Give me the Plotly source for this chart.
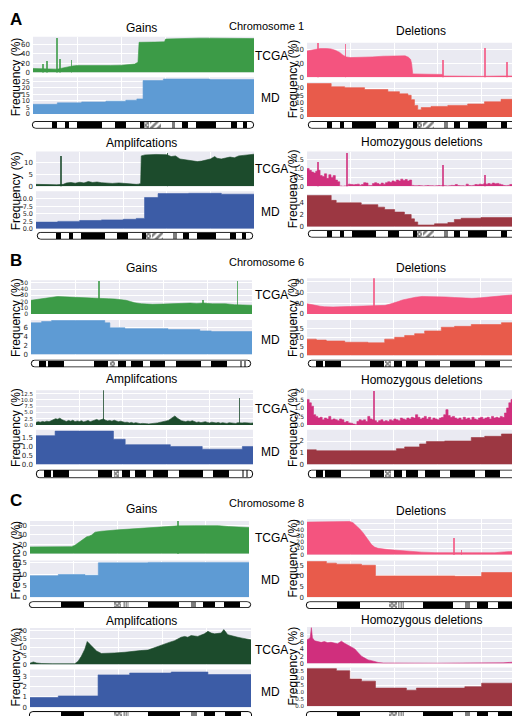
import plotly.graph_objects as go

W, H = 520, 716
BG = '#eaeaf2'
FONT = 'Liberation Sans'
TICK_FONT = 'DejaVu Sans'

COLORS = {
    'gain_tcga': '#3c9b47',
    'gain_md': '#5e9bd4',
    'amp_tcga': '#1c4b2c',
    'amp_md': '#3c5ca6',
    'del_tcga': '#f4547f',
    'del_md': '#e85b4b',
    'hd_tcga': '#d02f7d',
    'hd_md': '#9c3742',
}

# positions are in % of chromosome length
GRID1 = list(range(0, 101))

# ---------------- chromosome 1 ----------------
C1_GAIN_TCGA_X = [0, 5, 8, 11, 13, 15, 18, 20, 25, 30, 35, 40, 44, 46, 47.5, 48, 55, 59.5, 60,
                  65, 70, 75, 80, 85, 90, 95, 100]
C1_GAIN_TCGA_Y = [8.5, 8, 7.5, 7, 9, 11.5, 14, 15, 14.5, 14.5, 15, 15.5, 16.5, 18, 22, 65, 65.5, 66, 72,
                  73, 73.5, 74, 74, 73.5, 73.5, 73, 73]
C1_GAIN_SPIKE_X = [4.5, 6.3, 11.0, 12.1, 17.4]
C1_GAIN_SPIKE_Y = [19, 26, 74, 30, 27]
C1_GAIN_MD_EDGES = [0, 11, 22, 33, 42, 47, 49.8, 59, 80, 100]
C1_GAIN_MD_VALS = [7.4, 8.5, 9.2, 9.8, 10.5, 11.5, 25.5, 26.7, 26.3]

C1_AMP_TCGA_X = [0, 3, 6, 9.5, 12.5, 14, 16, 18, 20, 22, 24, 26, 28, 30, 32, 35, 38, 41, 44, 46,
                 47, 48, 48.3, 50, 55, 60, 62, 64, 66, 68, 70, 72, 74, 76, 78, 80, 82, 83, 85, 87,
                 89, 91, 93, 95, 97, 100]
C1_AMP_TCGA_Y = [0.8, 0.9, 0.7, 0.6, 0.8, 1.4, 1.6, 1.3, 1.7, 1.4, 2.0, 1.6, 1.8, 1.5, 1.3, 1.2, 1.4, 1.1, 1.0, 0.8,
                 0.9, 1.2, 12.8, 13.2, 13.4, 13.3, 12.5, 12.8, 11.5, 11.2, 11.0, 10.8, 10.4, 10.6, 11.0, 11.5, 12.5, 11.8, 11.5, 12.0,
                 12.3, 12.0, 12.8, 13.0, 13.2, 13.5]
C1_AMP_SPIKE_X = [11.3, 60.3]
C1_AMP_SPIKE_Y = [12.8, 14.3]
C1_AMP_MD_EDGES = [0, 10, 20, 30, 40, 46, 49.8, 56, 70, 85, 100]
C1_AMP_MD_VALS = [2.3, 2.5, 2.8, 3.0, 3.2, 3.5, 10.5, 11.8, 11.9, 11.6]

C1_DEL_TCGA_X = [0, 3, 6, 9, 11, 13, 15, 16.5, 18, 20, 25, 28, 30, 35, 40, 43, 45, 46.5, 47.5, 48,
                 48.5, 55, 62, 62.5, 70, 80, 90, 100]
C1_DEL_TCGA_Y = [38, 40, 41.5, 41.5, 41, 39, 36, 32, 29.5, 28.5, 28.5, 29, 29.5, 30.5, 31, 31.5, 31, 29, 26, 20,
                 5, 4.5, 4.2, 2, 1.5, 1.5, 2, 2]
C1_DEL_SPIKE_X = [5.0, 17.7, 62.3, 81.8, 91.8]
C1_DEL_SPIKE_Y = [50, 48, 26, 43, 23]
C1_DEL_MD_EDGES = [0, 11.1, 17.3, 26.4, 37.1, 42.4, 46.3, 47.8, 49.3, 50.8, 52.4, 56.9, 64.6, 73.7, 81.4, 89.0, 100]
C1_DEL_MD_VALS = [23.1, 20.9, 20.3, 19.0, 17.5, 16.0, 15.0, 12.0, 8.0, 5.0, 6.5, 7.3, 8.0, 9.0, 10.5, 12.2]

C1_HD_TCGA_Y = [1.0, 0.9, 0.8, 0.75, 0.85, 0.9, 0.6, 0.55, 0.7, 0.45,
                0.65, 0.5, 0.6, 0.35, 0.25, 0.02, 0.0, 0.02, 0.03, 0.12,
                0.1, 0.08, 0.1, 0.12, 0.06, 0.1, 0.2, 0.18, 0.05, 0.04,
                0.15, 0.2, 0.15, 0.1, 0.18, 0.12, 0.2, 0.25, 0.22, 0.3,
                0.25, 0.35, 0.3, 0.4, 0.32, 0.38, 0.3, 0.35, 0.05, 0.03,
                0.03, 0.04, 0.03, 0.02, 0.03, 0.04, 0.03, 0.03, 0.02, 0.03,
                0.04, 0.03, 0.05, 0.03, 0.02, 0.03, 0.05, 0.04, 0.1, 0.04,
                0.03, 0.03, 0.02, 0.12, 0.04, 0.03, 0.05, 0.1, 0.08, 0.12,
                0.1, 0.14, 0.12, 0.15, 0.12, 0.18, 0.14, 0.16, 0.12, 0.08,
                0.04, 0.03, 0.05, 0.1, 0.12, 0.15, 0.2, 0.14, 0.18, 0.15,
                0.12]
C1_HD_SPIKE_X = [5.0, 18.2, 62.3, 81.8]
C1_HD_SPIKE_Y = [1.37, 1.92, 1.24, 0.66]
C1_HD_MD_EDGES = [0, 11.1, 13.4, 24.9, 32.5, 35.6, 40.2, 44.7, 47.8, 49.3, 50.8, 58.5, 64.6, 67.6, 70.7, 79.8, 98.2, 100]
C1_HD_MD_VALS = [5.1, 4.3, 3.9, 3.6, 3.2, 2.8, 2.4, 2.0, 1.3, 0.8, 0.3, 0.5, 0.7, 1.2, 1.4, 1.5, 1.3]

C1_BLACK = [(8.9, 11.0), (14.9, 16.7), (20.4, 31.3), (37.2, 42.3), (48.7, 50.6), (67.6, 70.5),
            (74.0, 82.9), (89.6, 92.3), (95.2, 97.0)]
C1_GREY = [(63.1, 63.7), (64.0, 64.6)]
C1_CEN = [(50.6, 52.7)]
C1_HATCH = [(53.1, 58.3)]

# ---------------- chromosome 6 ----------------
C6_GAIN_TCGA_X = [0, 5, 8, 10, 12, 15, 20, 25, 30, 35, 38, 40, 43, 45, 47, 50, 55, 60, 65, 68,
                  72, 75, 78, 82, 85, 88, 92, 95, 100]
C6_GAIN_TCGA_Y = [22, 24, 26, 27, 28, 27.5, 27, 26, 25, 24.5, 24, 23.5, 22, 20, 18, 16.5, 15.5, 16, 17, 17.5,
                  17.5, 17, 17.5, 16.5, 17, 16.5, 15, 14.5, 14]
C6_GAIN_SPIKE_X = [30.7, 77.9, 93.4]
C6_GAIN_SPIKE_Y = [53, 22, 53]
C6_GAIN_MD_EDGES = [0, 4.8, 9.3, 33.4, 35.7, 42.5, 62.0, 76.4, 81.6, 100]
C6_GAIN_MD_VALS = [7.1, 7.4, 7.6, 7.1, 6.0, 5.8, 5.6, 5.3, 5.15]

C6_AMP_TCGA_Y = [1.0, 1.3, 1.1, 1.4, 1.2, 1.5, 1.3, 1.8, 2.2, 2.5,
                 2.3, 2.7, 2.1, 1.6, 1.4, 1.8, 1.5, 1.9, 1.3, 1.6,
                 1.4, 1.7, 1.2, 1.5, 1.8, 1.3, 1.6, 1.9, 2.2, 1.8,
                 2.1, 2.4, 1.9, 1.6, 1.8, 1.5, 1.9, 1.6, 1.3, 1.5,
                 1.2, 1.0, 1.1, 0.8, 1.0, 0.7, 0.9, 0.6, 0.5, 0.6,
                 0.4, 0.5, 0.4, 0.6, 0.5, 0.7, 0.8, 1.0, 1.2, 1.1,
                 1.4, 1.8, 2.4, 3.0, 3.6, 2.8, 2.1, 1.7, 1.5, 1.3,
                 1.6, 1.4, 1.7, 1.2, 1.0, 1.2, 0.9, 1.1, 1.3, 1.0,
                 0.8, 1.1, 0.9, 0.8, 1.0, 0.7, 0.9, 0.8, 0.6, 0.9,
                 0.7, 0.8, 0.6, 0.9, 0.7, 0.8, 0.9, 0.7, 0.8, 0.7,
                 0.8]
C6_AMP_SPIKE_X = [31.1, 93.8]
C6_AMP_SPIKE_Y = [13.8, 10.5]
C6_AMP_MD_EDGES = [0, 8.8, 35.7, 41.1, 61.9, 76.6, 95.1, 100]
C6_AMP_MD_VALS = [1.6, 1.85, 1.4, 1.1, 1.0, 0.85, 1.0]

C6_DEL_TCGA_X = [0, 2, 4, 6, 8, 12, 18, 22, 26, 30, 34, 36, 38, 40, 42, 44, 46, 48, 50, 53,
                 58, 61, 64, 68, 72, 76, 80, 83, 86, 89, 92, 95, 98, 100]
C6_DEL_TCGA_Y = [19, 18, 16, 14.5, 13.5, 13, 13.5, 14, 14.5, 15, 15, 16, 18, 20, 23, 26, 28, 30, 31, 32.5,
                 32.5, 32, 31.5, 30.5, 29.5, 29, 30, 31, 32, 33, 34, 35.5, 35, 34.5]
C6_DEL_SPIKE_X = [30.9]
C6_DEL_SPIKE_Y = [66]
C6_DEL_MD_EDGES = [0, 4.3, 8.9, 17.4, 28.1, 35.8, 40.4, 45.0, 49.6, 54.2, 61.9, 68.0, 75.7, 89.6, 95.7, 100]
C6_DEL_MD_VALS = [9.0, 8.5, 8.0, 7.3, 7.0, 9.0, 10.0, 11.0, 12.0, 13.5, 15.5, 16.0, 17.0, 18.0, 19.0]

C6_HD_TCGA_Y = [1.5, 1.3, 1.1, 0.6, 0.5, 0.4, 0.45, 0.3, 0.4, 0.35,
                0.5, 0.3, 0.35, 0.3, 0.25, 0.35, 0.3, 0.15, 0.2, 0.12,
                0.1, 0.05, 0.03, 0.2, 0.3, 0.25, 0.3, 0.2, 0.5, 0.35,
                0.3, 0.25, 0.15, 0.25, 0.3, 0.2, 0.25, 0.2, 0.3, 0.25,
                0.35, 0.3, 0.25, 0.4, 0.35, 0.3, 0.4, 0.35, 0.45, 0.4,
                0.6, 0.45, 0.35, 0.4, 0.5, 0.35, 0.45, 0.3, 0.4, 0.35,
                0.3, 0.4, 0.45, 0.6, 0.9, 0.55, 0.45, 0.5, 0.4, 0.35,
                0.4, 0.3, 0.45, 0.35, 0.4, 0.3, 0.45, 0.35, 0.3, 0.4,
                0.45, 0.35, 0.4, 0.45, 0.35, 0.5, 0.4, 0.45, 0.4, 0.5,
                0.45, 0.7, 1.0, 1.3, 1.5, 1.2, 2.0, 1.3, 1.75, 1.4,
                1.1]
C6_HD_SPIKE_X = [30.9]
C6_HD_SPIKE_Y = [2.0]
C6_HD_MD_EDGES = [0, 4.3, 41.2, 45.0, 51.9, 55.0, 63.4, 75.7, 81.9, 89.6, 95.7, 100]
C6_HD_MD_VALS = [1.25, 1.17, 1.35, 1.5, 1.75, 1.95, 2.0, 2.3, 2.4, 2.6, 2.83]

C6_BLACK = [(3.5, 6.8), (7.7, 15.0), (28.6, 35.0), (39.6, 43.3), (45.5, 50.8), (54.0, 61.0),
            (66.0, 77.2), (81.8, 89.0)]
C6_GREY = [(95.0, 96.0), (96.8, 97.8)]
C6_CEN = [(35.7, 38.3)]
C6_HATCH = []

# ---------------- chromosome 8 ----------------
C8_GAIN_TCGA_X = [0, 10, 17, 19, 20.5, 22.8, 24.5, 25.9, 27, 28.2, 29.7, 32.7, 40.3, 51, 60.1, 67.7,
                  75.3, 86, 90.6, 96.7, 100]
C8_GAIN_TCGA_Y = [14.5, 14.5, 14, 15, 18, 25, 32, 36, 37.5, 40, 46, 48, 51, 54, 57, 59.5,
                  60, 60, 58, 56.5, 56]
C8_GAIN_SPIKE_X = [67.7]
C8_GAIN_SPIKE_Y = [70]
C8_GAIN_MD_EDGES = [0, 12.9, 25.1, 31.2, 54, 100]
C8_GAIN_MD_VALS = [9.4, 9.9, 9.6, 15.0, 15.2]

C8_AMP_TCGA_X = [0, 1.5, 3, 5.3, 10, 15, 20.3, 21.8, 23.3, 24.8, 25.9, 27, 27.8, 30.1, 32.3, 35, 38.3,
                 42.9, 47.4, 50, 53.4, 56.4, 58, 60.9, 63, 65.4, 68.4, 70, 71.4, 72.9, 75.9, 78.9, 80.5,
                 82, 83.5, 86.5, 87.7, 89.5, 92, 94, 96, 98.5, 100]
C8_AMP_TCGA_Y = [0.8, 1.5, 0.9, 0.6, 0.5, 0.6, 0.5, 2, 5, 9, 13.5, 12, 11, 8, 6.5, 6.5, 6.8,
                 7.2, 8, 8.2, 8.5, 10, 10.5, 12, 13, 14, 16, 16.5, 16, 17, 16.5, 18, 19.5,
                 18.5, 18, 18.5, 20.5, 17.5, 16.5, 16, 15.5, 15, 14.5]
C8_AMP_MD_EDGES = [0, 12.8, 30.8, 45.1, 63.9, 80.5, 100]
C8_AMP_MD_VALS = [0.95, 1.1, 3.17, 3.35, 3.45, 3.2]

C8_DEL_TCGA_X = [0, 12.7, 14.2, 19.6, 21.1, 22.7, 24.2, 25.7, 27, 28, 29.6, 31, 32.6, 37.2, 43.3,
                 52.5, 58.7, 74, 80.1, 86.2, 89, 92.3, 96, 100]
C8_DEL_TCGA_Y = [52, 52.5, 53.5, 53, 51, 46, 41, 35, 29, 25, 16, 12, 10, 8, 6,
                 4, 3.2, 3, 2.5, 3, 4, 5, 5.5, 5.5]
C8_DEL_SPIKE_X = [67.4, 70.9]
C8_DEL_SPIKE_Y = [26, 8]
C8_DEL_MD_EDGES = [0, 8.9, 13.5, 25, 31.4, 67.8, 80.1, 100]
C8_DEL_MD_VALS = [16.8, 16.0, 15.5, 15.0, 10.0, 9.8, 11.6]

C8_HD_TCGA_X = [0, 1, 1.5, 2, 2.5, 3.5, 5, 6.5, 8, 9.5, 11, 12.7, 14, 15, 15.8, 17, 18.8, 20, 21.9,
                23.4, 25, 26.5, 28, 29.6, 31, 32.6, 35, 40, 50, 60, 70, 80, 90, 95, 97, 100]
C8_HD_TCGA_Y = [6.5, 6.8, 7.2, 9.8, 7, 6.2, 6, 5.8, 6, 5.7, 5.8, 5.5, 5.4, 5.8, 6.1, 5.6, 5, 4.5, 4,
                3, 2, 1.5, 1.0, 0.8, 0.5, 0.3, 0.15, 0.1, 0.1, 0.1, 0.15, 0.1, 0.2, 0.4, 0.3, 0.2]
C8_HD_MD_EDGES = [0, 13.5, 19.6, 25, 31.4, 45.6, 50.2, 72.4, 80.1, 100]
C8_HD_MD_VALS = [2.7, 2.55, 1.95, 1.8, 1.3, 1.15, 1.3, 1.4, 1.65]

C8_BLACK = [(14.2, 24.5), (53.5, 67.7), (78.5, 83.7), (88.1, 95.2)]
C8_GREY = [(72.9, 75.5)]
C8_CEN = [(38.2, 41.6)]
C8_HATCH = []
C8_STRIPE = [(42.2, 44.9)]

fig = go.Figure()
axis_count = 0


def add_axes(box, xrange, yrange, data=True, yticks=None, fmt='', tsize=7):
    global axis_count
    axis_count += 1
    sfx = '' if axis_count == 1 else str(axis_count)
    left, right, top, bottom = box
    xa = dict(domain=[left / W, right / W], range=xrange, anchor='y' + sfx,
              showticklabels=False, zeroline=False, showline=False, ticks='', fixedrange=True)
    ya = dict(domain=[1 - bottom / H, 1 - top / H], range=yrange, anchor='x' + sfx,
              zeroline=False, showline=False, ticks='', fixedrange=True)
    if data:
        xa.update(showgrid=True, gridcolor='white', gridwidth=1, dtick=20, tick0=0)
        ya.update(showgrid=True, gridcolor='white', gridwidth=1, tickvals=yticks,
                  tickformat=fmt, ticklabelstandoff=2,
                  tickfont=dict(family=TICK_FONT, size=tsize, color='#262626'))
        fig.add_shape(type='rect', xref='x%s domain' % sfx, yref='y%s domain' % sfx,
                      x0=0, x1=1, y0=0, y1=1, fillcolor=BG, line_width=0, layer='below')
    else:
        xa.update(showgrid=False, visible=False)
        ya.update(showgrid=False, visible=False)
    fig.update_layout({'xaxis' + sfx: xa, 'yaxis' + sfx: ya})
    return 'x' + sfx, 'y' + sfx


def area(box, x, y, color, yrange, yticks, fmt='', step=False, spikes=None, tsize=7):
    xa, ya = add_axes(box, [0, 100], yrange, yticks=yticks, fmt=fmt, tsize=tsize)
    fig.add_trace(go.Scatter(x=x, y=y, mode='lines', fill='tozeroy', fillcolor=color,
                             line=dict(color=color, width=0.6, shape='hv' if step else 'linear'),
                             xaxis=xa, yaxis=ya, hoverinfo='skip'))
    if spikes:
        fig.add_trace(go.Bar(x=spikes[0], y=spikes[1], width=0.35,
                             marker=dict(color=color, line_width=0, opacity=0.8),
                             xaxis=xa, yaxis=ya, hoverinfo='skip'))


def md(box, edges, vals, color, yrange, yticks, fmt='', tsize=7):
    area(box, edges, vals + [vals[-1]], color, yrange, yticks, fmt, step=True, tsize=tsize)


def ideogram(box, black, grey, cen, hatch, stripe=()):
    xa, ya = add_axes(box, [-0.6, 100.6], [-0.5, 0.5], data=False)
    styles = [
        (black, dict(color='black')),
        (grey, dict(color='#7d7d7d')),
        (cen, dict(color='white', pattern=dict(shape='x', fgcolor='black', bgcolor='white',
                                               size=3, solidity=0.75))),
        (hatch, dict(color='white', pattern=dict(shape='/', fgcolor='black', bgcolor='white',
                                                 size=5, solidity=0.5))),
        (stripe, dict(color='white', pattern=dict(shape='|', fgcolor='black', bgcolor='white',
                                                  size=2.5, solidity=0.6))),
    ]
    for segs, mk in styles:
        if not segs:
            continue
        fig.add_trace(go.Bar(orientation='h', y=[0] * len(segs), x=[e - s for s, e in segs],
                             base=[s for s, e in segs], width=0.84,
                             marker=dict(line_width=0, **mk),
                             xaxis=xa, yaxis=ya, hoverinfo='skip'))
    r, h = 1.6, 0.44
    path = (f'M {r},{-h} L {100 - r},{-h} Q 100,{-h} 100,0 Q 100,{h} {100 - r},{h} '
            f'L {r},{h} Q 0,{h} 0,0 Q 0,{-h} {r},{-h} Z')
    fig.add_shape(type='path', path=path, xref=xa, yref=ya, line=dict(color='black', width=1))


def text(px, py, s, size=11.5, angle=0, family=FONT):
    fig.add_annotation(x=px / W, y=1 - py / H, xref='paper', yref='paper', text=s,
                       showarrow=False, textangle=angle, xanchor='center', yanchor='middle',
                       font=dict(family=family, size=size, color='black'))


# ---------------- chromosome 1 (A) ----------------
area((25, 246, 26, 62), C1_GAIN_TCGA_X, C1_GAIN_TCGA_Y, COLORS['gain_tcga'], [0, 77], [0, 20, 40, 60],
     spikes=(C1_GAIN_SPIKE_X, C1_GAIN_SPIKE_Y))
md((25, 246, 67, 104), C1_GAIN_MD_EDGES, C1_GAIN_MD_VALS, COLORS['gain_md'], [0, 28],
   [0, 5, 10, 15, 20, 25], tsize=6.5)
ideogram((23, 247, 111, 119), C1_BLACK, C1_GREY, C1_CEN, C1_HATCH)
area((28, 246, 142, 177), C1_AMP_TCGA_X, C1_AMP_TCGA_Y, COLORS['amp_tcga'], [0, 14.6], [0, 5, 10],
     spikes=(C1_AMP_SPIKE_X, C1_AMP_SPIKE_Y))
md((28, 246, 182, 220), C1_AMP_MD_EDGES, C1_AMP_MD_VALS, COLORS['amp_md'], [0, 12.6],
   [0, 2.5, 5, 7.5, 10], '.1f', tsize=6.5)
ideogram((28, 246, 223, 231), C1_BLACK, C1_GREY, C1_CEN, C1_HATCH)

area((299, 517, 32, 67), C1_DEL_TCGA_X, C1_DEL_TCGA_Y, COLORS['del_tcga'], [0, 50], [0, 20, 40],
     spikes=(C1_DEL_SPIKE_X, C1_DEL_SPIKE_Y))
md((299, 517, 72, 107), C1_DEL_MD_EDGES, C1_DEL_MD_VALS, COLORS['del_md'], [0, 24],
   [0, 5, 10, 15, 20], tsize=6.5)
ideogram((299, 517, 111, 119), C1_BLACK, C1_GREY, C1_CEN, C1_HATCH)
area((299, 517, 142, 177), GRID1, C1_HD_TCGA_Y, COLORS['hd_tcga'], [0, 1.95], [0, 0.5, 1, 1.5], '.1f',
     step=True, spikes=(C1_HD_SPIKE_X, C1_HD_SPIKE_Y), tsize=6.5)
md((299, 517, 185, 218), C1_HD_MD_EDGES, C1_HD_MD_VALS, COLORS['hd_md'], [0, 5.3], [0, 2, 4])
ideogram((299, 517, 221, 229), C1_BLACK, C1_GREY, C1_CEN, C1_HATCH)

# ---------------- chromosome 6 (B) ----------------
area((23, 244, 272, 306), C6_GAIN_TCGA_X, C6_GAIN_TCGA_Y, COLORS['gain_tcga'], [0, 54],
     [0, 10, 20, 30, 40, 50], spikes=(C6_GAIN_SPIKE_X, C6_GAIN_SPIKE_Y), tsize=6)
md((23, 244, 312, 347), C6_GAIN_MD_EDGES, C6_GAIN_MD_VALS, COLORS['gain_md'], [0, 7.75], [0, 2, 4, 6])
ideogram((22, 244, 352, 360), C6_BLACK, C6_GREY, C6_CEN, C6_HATCH)
area((28, 245, 383, 418), GRID1, C6_AMP_TCGA_Y, COLORS['amp_tcga'], [0, 13.9],
     [0, 2.5, 5, 7.5, 10, 12.5], '.1f', spikes=(C6_AMP_SPIKE_X, C6_AMP_SPIKE_Y), tsize=5.5)
md((28, 245, 423, 458), C6_AMP_MD_EDGES, C6_AMP_MD_VALS, COLORS['amp_md'], [0, 1.92],
   [0, 0.5, 1, 1.5], '.1f')
ideogram((27, 246, 463, 472), C6_BLACK, C6_GREY, C6_CEN, C6_HATCH)

area((299, 516, 270, 306), C6_DEL_TCGA_X, C6_DEL_TCGA_Y, COLORS['del_tcga'], [0, 66], [0, 20, 40, 60],
     spikes=(C6_DEL_SPIKE_X, C6_DEL_SPIKE_Y))
md((299, 516, 312, 348), C6_DEL_MD_EDGES, C6_DEL_MD_VALS, COLORS['del_md'], [0, 19.5], [0, 5, 10, 15])
ideogram((299, 517, 352, 360), C6_BLACK, C6_GREY, C6_CEN, C6_HATCH)
area((299, 516, 383, 418), GRID1, C6_HD_TCGA_Y, COLORS['hd_tcga'], [0, 2.04], [0, 0.5, 1, 1.5, 2],
     '.1f', step=True, spikes=(C6_HD_SPIKE_X, C6_HD_SPIKE_Y), tsize=6)
md((299, 516, 423, 458), C6_HD_MD_EDGES, C6_HD_MD_VALS, COLORS['hd_md'], [0, 2.95], [0, 1, 2])
ideogram((299, 517, 463, 472), C6_BLACK, C6_GREY, C6_CEN, C6_HATCH)

# ---------------- chromosome 8 (C) ----------------
area((22, 241, 515, 548), C8_GAIN_TCGA_X, C8_GAIN_TCGA_Y, COLORS['gain_tcga'], [0, 70], [0, 20, 40, 60],
     spikes=(C8_GAIN_SPIKE_X, C8_GAIN_SPIKE_Y))
md((22, 241, 555, 592), C8_GAIN_MD_EDGES, C8_GAIN_MD_VALS, COLORS['gain_md'], [0, 16], [0, 5, 10, 15])
ideogram((20, 244, 596, 603), C8_BLACK, C8_GREY, C8_CEN, C8_HATCH, C8_STRIPE)
area((22, 243, 623, 660), C8_AMP_TCGA_X, C8_AMP_TCGA_Y, COLORS['amp_tcga'], [0, 21.5],
     [0, 5, 10, 15, 20], tsize=6.5)
md((22, 243, 665, 703), C8_AMP_MD_EDGES, C8_AMP_MD_VALS, COLORS['amp_md'], [0, 3.7], [0, 1, 2, 3])
ideogram((20, 245, 707, 715), C8_BLACK, C8_GREY, C8_CEN, C8_HATCH, C8_STRIPE)

area((299, 517, 513, 549), C8_DEL_TCGA_X, C8_DEL_TCGA_Y, COLORS['del_tcga'], [0, 57],
     [0, 10, 20, 30, 40, 50], spikes=(C8_DEL_SPIKE_X, C8_DEL_SPIKE_Y), tsize=6)
md((299, 517, 555, 592), C8_DEL_MD_EDGES, C8_DEL_MD_VALS, COLORS['del_md'], [0, 17.2], [0, 5, 10, 15])
ideogram((297, 517, 596, 604), C8_BLACK, C8_GREY, C8_CEN, C8_HATCH, C8_STRIPE)
area((299, 517, 622, 659), C8_HD_TCGA_X, C8_HD_TCGA_Y, COLORS['hd_tcga'], [0, 10], [0, 2, 4, 6, 8],
     tsize=6.5)
md((299, 517, 663, 702), C8_HD_MD_EDGES, C8_HD_MD_VALS, COLORS['hd_md'], [0, 2.78],
   [0, 0.5, 1, 1.5, 2, 2.5], '.1f', tsize=5.5)
ideogram((297, 517, 707, 715), C8_BLACK, C8_GREY, C8_CEN, C8_HATCH, C8_STRIPE)

# ---------------- text ----------------
sections = [
    # letter, letter y, chromosome label, label y, title ys, TCGA/MD label ys, y-title ys
    ('A', 9, 'Chromosome 1', 15, (17, 20, 133, 132), (45, 88, 160, 203), (67, 69, 182, 180)),
    ('B', 252, 'Chromosome 6', 253, (260, 260, 372, 373), (287, 332, 402, 445), (310, 310, 421, 421)),
    ('C', 494, 'Chromosome 8', 497, (503, 505, 616, 615), (532, 575, 645, 688), (555, 553, 663, 662)),
]
for letter, ly, chrom, cy, ty, lab, yt in sections:
    text(8, ly, '<b>%s</b>' % letter, size=17)
    text(258, cy, chrom, size=11)
    text(133, ty[0], 'Gains', size=12)
    text(413, ty[1], 'Deletions', size=12)
    text(133, ty[2], 'Amplifcations', size=12)
    text(413, ty[3], 'Homozygous deletions', size=12)
    text(263, lab[0], 'TCGA', size=12)
    text(262, lab[1], 'MD', size=12)
    text(263, lab[2], 'TCGA', size=12)
    text(262, lab[3], 'MD', size=12)
    text(8, yt[0], 'Frequency (%)', size=12, angle=-90)
    text(285, yt[1], 'Frequency (%)', size=12, angle=-90)
    text(8, yt[2], 'Frequency (%)', size=12, angle=-90)
    text(285, yt[3], 'Frequency (%)', size=12, angle=-90)

fig.update_layout(
    width=W, height=H,
    margin=dict(l=0, r=0, t=0, b=0),
    paper_bgcolor='white',
    plot_bgcolor='white',
    showlegend=False,
    barmode='overlay',
    bargap=0,
    font=dict(family=FONT, size=11),
)

fig.write_html('out.html')
